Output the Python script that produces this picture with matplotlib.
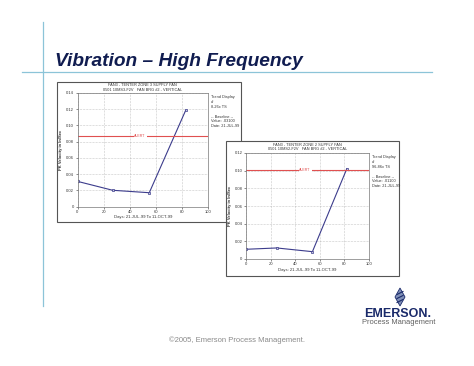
import matplotlib
matplotlib.use('Agg')
import matplotlib.pyplot as plt
from matplotlib.patches import Rectangle, Polygon

W, H = 474, 366

# chart 1 data
days1 = [0, 27, 55, 83]
vel1 = [0.031, 0.020, 0.017, 0.119]
alert1 = 0.087
yticks1 = [0, 0.02, 0.04, 0.06, 0.08, 0.10, 0.12, 0.14]
ylabels1 = ['0', '0.02', '0.04', '0.06', '0.08', '0.10', '0.12', '0.14']

# chart 2 data
days2 = [0, 25, 54, 82]
vel2 = [0.011, 0.0125, 0.0083, 0.1023]
alert2 = 0.1008
yticks2 = [0, 0.02, 0.04, 0.06, 0.08, 0.10, 0.12]
ylabels2 = ['0', '0.02', '0.04', '0.06', '0.08', '0.10', '0.12']

xticks = [0, 20, 40, 60, 80, 100]

side1 = ['Trend Display', 'of', '8-26x TS', '', '-- Baseline --', 'Value: .03100', 'Date: 21-JUL-99']
side2 = ['Trend Display', 'of', '96-86x TS', '', '-- Baseline --', 'Value: .01100', 'Date: 21-JUL-99']

plt.rcParams['font.family'] = ['Liberation Sans', 'DejaVu Sans']

fig = plt.figure(figsize=(W / 100, H / 100), dpi=100)
fig.patch.set_facecolor('white')


def px(x, y):
    return x / W, 1 - y / H


def rect(x0, y0, x1, y1):
    return [x0 / W, 1 - y1 / H, (x1 - x0) / W, (y1 - y0) / H]


# slide decoration lines
fig.add_artist(plt.Line2D([22 / W, 432 / W], [1 - 72 / H, 1 - 72 / H], color='#8cc4d8', lw=0.9))
fig.add_artist(plt.Line2D([43 / W, 43 / W], [1 - 22 / H, 1 - 306 / H], color='#8cc4d8', lw=0.9))

fig.text(*px(55, 62), 'Vibration \u2013 High Frequency', fontsize=13.8, fontweight='bold',
         fontstyle='italic', color='#101c50', va='center', ha='left')


def draw_chart(box, plot, days, vel, alert, yticks, ylabels, ymax, title2, side, z):
    fig.add_artist(Rectangle(px(box[0], box[3]), (box[2] - box[0]) / W, (box[3] - box[1]) / H,
                             transform=fig.transFigure, fill=True, facecolor='white',
                             edgecolor='#555555', lw=0.8, zorder=z))
    ax = fig.add_axes(rect(*plot))
    ax.set_zorder(z + 0.5)
    ax.plot(days, vel, color='#3c3c8c', lw=0.8, marker='s', markersize=1.8,
            markerfacecolor='#c8c8e0', markeredgecolor='#3c3c8c', markeredgewidth=0.5)
    ax.axhline(alert, color='#e05050', lw=0.8)
    ax.text(48, alert, 'ALERT', color='#e05050', fontsize=2.6, ha='center', va='center',
            bbox=dict(facecolor='white', edgecolor='none', pad=0.6))
    ax.set_xlim(0, 100)
    ax.set_ylim(0, ymax)
    ax.set_xticks(xticks)
    ax.set_xticklabels([str(t) for t in xticks])
    ax.set_yticks(yticks)
    ax.set_yticklabels(ylabels)
    ax.tick_params(labelsize=3, length=1.5, width=0.4, pad=1, colors='#333333')
    ax.grid(True, ls=':', color='#999999', lw=0.4)
    for s in ax.spines.values():
        s.set_color('#777777')
        s.set_linewidth(0.5)
    ax.set_xlabel('Days: 21-JUL-99 To 11-OCT-99', fontsize=3, labelpad=1, color='#333333')
    ax.set_ylabel('PK Velocity in In/Sec', fontsize=3, labelpad=2, fontweight='bold', color='#333333')
    cx = (plot[0] + plot[2]) / 2
    t1 = fig.text(*px(cx, box[1] + 3.5), title2[0], fontsize=2.8, ha='center', va='center', color='#333333')
    t2 = fig.text(*px(cx, box[1] + 8), title2[1], fontsize=2.8, ha='center', va='center', color='#333333')
    t3 = fig.text(*px(plot[2] + 3, plot[1] + 2), '\n'.join(side), fontsize=2.8, ha='left', va='top',
                  color='#333333', linespacing=1.3)
    for t in (t1, t2, t3):
        t.set_zorder(z + 0.6)
    return ax


draw_chart((57, 82, 241, 222), (77.5, 93, 208, 206.5), days1, vel1, alert1, yticks1, ylabels1, 0.14,
           ('FAN3 - TENTER ZONE 3 SUPPLY FAN', '0501 10MS3-F2V   FAN BRG #2 - VERTICAL'), side1, 1)
draw_chart((226, 141, 399, 276), (246, 153, 369, 259), days2, vel2, alert2, yticks2, ylabels2, 0.12,
           ('FAN3 - TENTER ZONE 2 SUPPLY FAN', '0501 10MS2-F2V   FAN BRG #2 - VERTICAL'), side2, 2)

# Emerson logo
cx, cy = 400, 297
fig.add_artist(Polygon([px(cx, cy - 9), px(cx + 5, cy), px(cx, cy + 9), px(cx - 5, cy)],
                       closed=True, transform=fig.transFigure, facecolor='#8090b8',
                       edgecolor='#1a2a6a', lw=0.6))
for dy in (-4, 0, 4):
    fig.add_artist(plt.Line2D([(cx - 3) / W, (cx + 3) / W], [1 - (cy + dy + 1.5) / H, 1 - (cy + dy - 1.5) / H],
                              color='#1a2a6a', lw=0.8))
fig.text(*px(398, 314), 'EMERSON.', fontsize=9, fontweight='bold', color='#1a2a6a', ha='center', va='center')
fig.text(*px(399, 323), 'Process Management', fontsize=5.4, color='#606060', ha='center', va='center')

fig.text(*px(237, 340), '\u00a92005, Emerson Process Management.', fontsize=5.5, color='#8a8a8a',
         ha='center', va='center')

fig.savefig('out.png', dpi=100, facecolor='white')
